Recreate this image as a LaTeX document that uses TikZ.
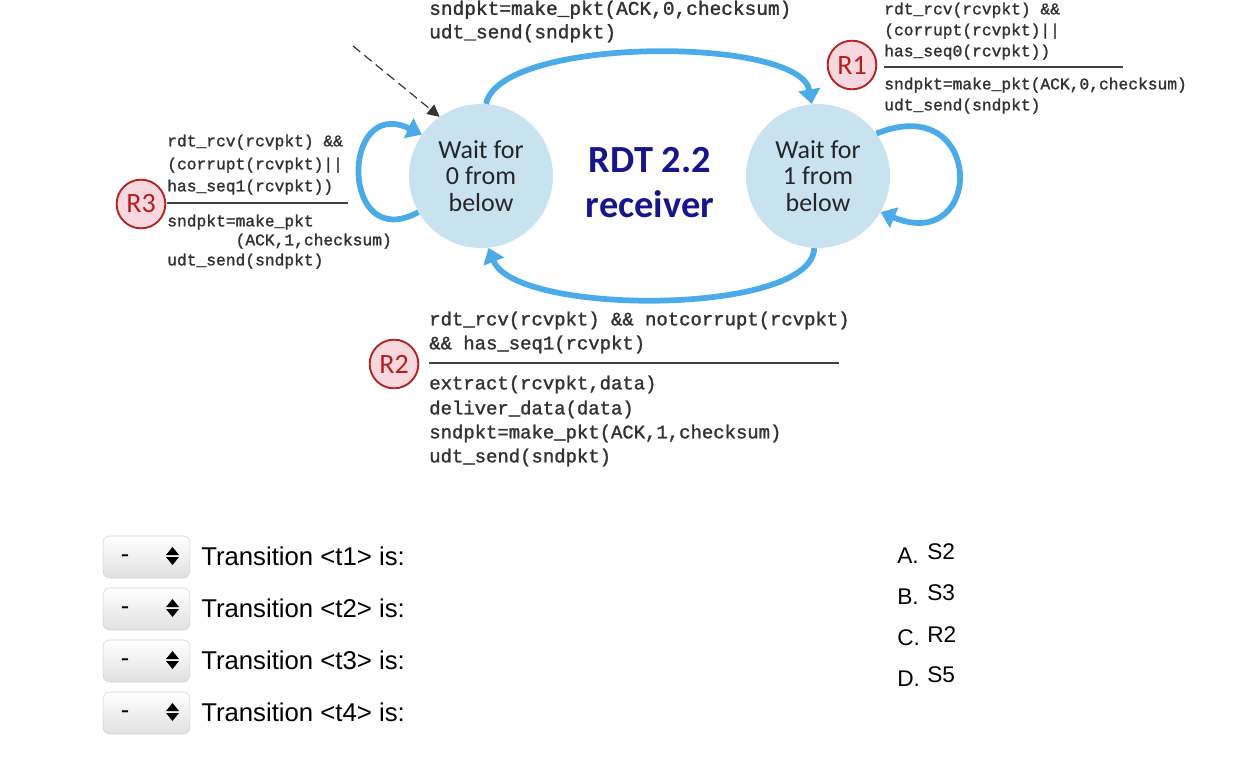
\documentclass[tikz,border=0pt]{standalone}
\usepackage{fontspec}
\setmainfont{Liberation Sans}
\newfontfamily\monof[FakeBold=1.4]{Liberation Mono}
\newfontfamily\calib{Carlito}
\usetikzlibrary{arrows.meta}
\definecolor{stfill}{RGB}{200,226,240}
\definecolor{arrblue}{RGB}{74,171,232}
\definecolor{navyblue}{RGB}{22,22,140}
\definecolor{codegray}{RGB}{50,50,50}
\definecolor{rfill}{RGB}{248,215,223}
\definecolor{rdraw}{RGB}{178,34,34}
\definecolor{rtext}{RGB}{176,32,31}
\begin{document}
\begin{tikzpicture}[x=0.75pt,y=-0.75pt,
  state/.style={circle, fill=stfill, minimum size=108pt, inner sep=0pt, align=center,
    font=\calib\fontsize{19.5}{19.8}\selectfont, text=black!85},
  trans/.style={draw=arrblue, line width=4.3pt, -{Triangle[width=16pt,length=11pt]}},
  codebase/.style={anchor=west, inner sep=0pt, text=codegray, text height=0.72em, text depth=0.22em},
  codeT/.style={codebase, font=\monof\fontsize{14.6}{14.6}\selectfont},
  codeL/.style={codebase, font=\monof\fontsize{14.2}{14.2}\selectfont},
  codeS/.style={codebase, font=\monof\fontsize{12.2}{12.2}\selectfont},
  rule/.style={draw=black!75, line width=1.1pt},
  rlab/.style={circle, fill=rfill, draw=rdraw, line width=1.4pt, minimum size=36.5pt, inner sep=0pt,
    text=rtext, font=\calib\fontsize{21}{21}\selectfont},
  ddbox/.style={rounded corners=5pt, minimum width=65pt, minimum height=31.5pt, inner sep=0pt,
    draw=black!18, top color=white, bottom color=black!12},
  ddtext/.style={anchor=west, inner sep=0pt, font=\fontsize{19.3}{19.3}\selectfont},
  anstext/.style={anchor=west, inner sep=0pt, font=\fontsize{17}{17}\selectfont}
]
\useasboundingbox[fill=white] (0,0) rectangle (1242,766);

% states
\node[state] (s0) at (481,176) {Wait for\\0 from\\below};
\node[state] (s1) at (818,176) {Wait for\\1 from\\below};
\node[inner sep=0pt, align=center, text=navyblue, font=\calib\bfseries\fontsize{28.8}{33.8}\selectfont] (title) at (650,183) {RDT 2.2\\receiver};

% transitions
\draw[trans] (s0.86) .. controls (500,36) and (800,36) .. (s1.95);
\draw[trans] (s1.-93) .. controls (812,316) and (515,316) .. (s0.-84);
\draw[trans] (s1.36) .. controls (985,90) and (985,255) .. (s1.-30);
\draw[trans] (s0.210) .. controls (340,255) and (340,95) .. (s0.145);
\coordinate (init) at (353,46);
\draw[dashed, dash pattern=on 7pt off 4pt, line width=0.9pt, draw=black!80, -{Triangle[width=9pt,length=9pt]}] (init) -- (s0.125);

% top label
\node[codeT] (tA1) at (429,11.5) {sndpkt=make\_pkt(ACK,0,checksum)};
\node[codeT] (tA2) at (429,35) {udt\_send(sndpkt)};

% R1 label
\node[codeS] (r1a) at (884,11) {rdt\_rcv(rcvpkt) \&\&};
\node[codeS] (r1b) at (884,32) {(corrupt(rcvpkt)||};
\node[codeS] (r1c) at (884,53) {has\_seq0(rcvpkt))};
\draw[rule] (884,67) -- (1123,67);
\node[codeS] (r1d) at (884,86) {sndpkt=make\_pkt(ACK,0,checksum)};
\node[codeS] (r1e) at (884,107) {udt\_send(sndpkt)};
\node[rlab] (R1) at (852,65) {R1};

% R3 label
\node[codeS] (r3a) at (167,143) {rdt\_rcv(rcvpkt) \&\&};
\node[codeS] (r3b) at (167,166) {(corrupt(rcvpkt)||};
\node[codeS] (r3c) at (167,188) {has\_seq1(rcvpkt))};
\draw[rule] (167,203) -- (348,203);
\node[codeS] (r3d) at (167,223) {sndpkt=make\_pkt};
\node[codeS] (r3e) at (167,242) {\phantom{sndpkt=}(ACK,1,checksum)};
\node[codeS] (r3f) at (167,262) {udt\_send(sndpkt)};
\node[rlab] (R3) at (141,204) {R3};

% R2 label
\node[codeL] (r2a) at (429,322) {rdt\_rcv(rcvpkt) \&\& notcorrupt(rcvpkt)};
\node[codeL] (r2b) at (429,346) {\&\& has\_seq1(rcvpkt)};
\draw[rule] (429,363) -- (839,363);
\node[codeL] (r2c) at (429,386) {extract(rcvpkt,data)};
\node[codeL] (r2d) at (429,411) {deliver\_data(data)};
\node[codeL] (r2e) at (429,435) {sndpkt=make\_pkt(ACK,1,checksum)};
\node[codeL] (r2f) at (429,459) {udt\_send(sndpkt)};
\node[rlab] (R2) at (394,364) {R2};

% dropdown rows
\foreach \i/\yy in {1/557,2/609,3/661,4/713}{
  \node[ddbox] (dd\i) at (146.5,\yy) {};
  \node[anchor=center, inner sep=0pt, font=\fontsize{19}{19}\selectfont] (dash\i) at (125,\yy+2) {-};
  \fill[black] (166,\yy-2) -- (179,\yy-2) -- (172.5,\yy-10) -- cycle;
  \fill[black] (166,\yy) -- (179,\yy) -- (172.5,\yy+8) -- cycle;
  \node[ddtext] (tt\i) at (201,\yy-1) {Transition <t\i> is:};
}

% answers
\node[anstext] (la) at (897,555.5) {A.};
\node[anstext] (va) at (927,551.5) {S2};
\node[anstext] (lb) at (897,596.5) {B.};
\node[anstext] (vb) at (927,593) {S3};
\node[anstext] (lc) at (897,637.5) {C.};
\node[anstext] (vc) at (927,634.5) {R2};
\node[anstext] (ld) at (897,678.5) {D.};
\node[anstext] (vd) at (927,675) {S5};
\end{tikzpicture}
\end{document}
